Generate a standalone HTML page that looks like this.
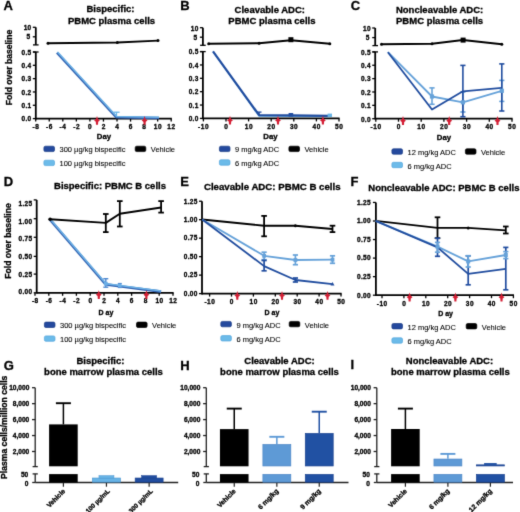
<!DOCTYPE html>
<html><head><meta charset="utf-8"><style>
html,body{margin:0;padding:0;background:#fff;}
svg{display:block;}
text{font-family:"Liberation Sans", sans-serif;stroke:#000;stroke-width:0.3px;}
</style></head><body>
<svg width="520" height="512" viewBox="0 0 520 512">
<defs><filter id="soft" x="0" y="0" width="520" height="512" filterUnits="userSpaceOnUse" color-interpolation-filters="sRGB"><feConvolveMatrix order="3" kernelMatrix="0.01210 0.08580 0.01210 0.08580 0.60840 0.08580 0.01210 0.08580 0.01210" edgeMode="duplicate" preserveAlpha="true"/></filter></defs>
<g filter="url(#soft)">
<rect width="520" height="512" fill="#fff"/>
<text x="3.60" y="9.70" font-size="13" font-weight="bold">A</text>
<text x="110.50" y="12.40" font-size="9.5" text-anchor="middle" font-weight="bold">Bispecific:</text>
<text x="111.50" y="23.70" font-size="9.5" text-anchor="middle" font-weight="bold">PBMC plasma cells</text>
<line x1="35.80" y1="52.00" x2="35.80" y2="119.40" stroke="#000" stroke-width="1.8" stroke-linecap="butt"/>
<line x1="33.00" y1="52.00" x2="38.60" y2="52.00" stroke="#000" stroke-width="1.3" stroke-linecap="butt"/>
<line x1="32.80" y1="118.60" x2="35.80" y2="118.60" stroke="#000" stroke-width="1.3" stroke-linecap="butt"/>
<text x="31.50" y="121.40" font-size="6.5" text-anchor="end" font-weight="bold" letter-spacing="0.3">0.0</text>
<line x1="32.80" y1="105.28" x2="35.80" y2="105.28" stroke="#000" stroke-width="1.3" stroke-linecap="butt"/>
<text x="31.50" y="108.08" font-size="6.5" text-anchor="end" font-weight="bold" letter-spacing="0.3">0.1</text>
<line x1="32.80" y1="91.96" x2="35.80" y2="91.96" stroke="#000" stroke-width="1.3" stroke-linecap="butt"/>
<text x="31.50" y="94.76" font-size="6.5" text-anchor="end" font-weight="bold" letter-spacing="0.3">0.2</text>
<line x1="32.80" y1="78.64" x2="35.80" y2="78.64" stroke="#000" stroke-width="1.3" stroke-linecap="butt"/>
<text x="31.50" y="81.44" font-size="6.5" text-anchor="end" font-weight="bold" letter-spacing="0.3">0.3</text>
<line x1="32.80" y1="65.32" x2="35.80" y2="65.32" stroke="#000" stroke-width="1.3" stroke-linecap="butt"/>
<text x="31.50" y="68.12" font-size="6.5" text-anchor="end" font-weight="bold" letter-spacing="0.3">0.4</text>
<line x1="32.80" y1="52.00" x2="35.80" y2="52.00" stroke="#000" stroke-width="1.3" stroke-linecap="butt"/>
<text x="31.50" y="54.80" font-size="6.5" text-anchor="end" font-weight="bold" letter-spacing="0.3">0.5</text>
<line x1="35.80" y1="27.30" x2="35.80" y2="44.90" stroke="#000" stroke-width="1.8" stroke-linecap="butt"/>
<line x1="33.00" y1="44.90" x2="38.60" y2="44.90" stroke="#000" stroke-width="1.3" stroke-linecap="butt"/>
<line x1="32.80" y1="27.30" x2="35.80" y2="27.30" stroke="#000" stroke-width="1.3" stroke-linecap="butt"/>
<line x1="32.80" y1="36.80" x2="35.80" y2="36.80" stroke="#000" stroke-width="1.3" stroke-linecap="butt"/>
<text x="31.50" y="30.10" font-size="6.5" text-anchor="end" font-weight="bold" letter-spacing="0.3">10</text>
<text x="30.00" y="39.40" font-size="6.5" text-anchor="end" font-weight="bold">5</text>
<line x1="35.80" y1="118.60" x2="171.80" y2="118.60" stroke="#000" stroke-width="1.8" stroke-linecap="butt"/>
<line x1="35.70" y1="118.60" x2="35.70" y2="121.60" stroke="#000" stroke-width="1.3" stroke-linecap="butt"/>
<text x="36.00" y="129.10" font-size="6.5" text-anchor="middle" font-weight="bold" letter-spacing="0.6">-8</text>
<line x1="49.25" y1="118.60" x2="49.25" y2="121.60" stroke="#000" stroke-width="1.3" stroke-linecap="butt"/>
<text x="49.55" y="129.10" font-size="6.5" text-anchor="middle" font-weight="bold" letter-spacing="0.6">-6</text>
<line x1="62.80" y1="118.60" x2="62.80" y2="121.60" stroke="#000" stroke-width="1.3" stroke-linecap="butt"/>
<text x="63.10" y="129.10" font-size="6.5" text-anchor="middle" font-weight="bold" letter-spacing="0.6">-4</text>
<line x1="76.35" y1="118.60" x2="76.35" y2="121.60" stroke="#000" stroke-width="1.3" stroke-linecap="butt"/>
<text x="76.65" y="129.10" font-size="6.5" text-anchor="middle" font-weight="bold" letter-spacing="0.6">-2</text>
<line x1="89.90" y1="118.60" x2="89.90" y2="121.60" stroke="#000" stroke-width="1.3" stroke-linecap="butt"/>
<text x="90.20" y="129.10" font-size="6.5" text-anchor="middle" font-weight="bold" letter-spacing="0.6">0</text>
<line x1="103.45" y1="118.60" x2="103.45" y2="121.60" stroke="#000" stroke-width="1.3" stroke-linecap="butt"/>
<text x="103.75" y="129.10" font-size="6.5" text-anchor="middle" font-weight="bold" letter-spacing="0.6">2</text>
<line x1="117.00" y1="118.60" x2="117.00" y2="121.60" stroke="#000" stroke-width="1.3" stroke-linecap="butt"/>
<text x="117.30" y="129.10" font-size="6.5" text-anchor="middle" font-weight="bold" letter-spacing="0.6">4</text>
<line x1="130.55" y1="118.60" x2="130.55" y2="121.60" stroke="#000" stroke-width="1.3" stroke-linecap="butt"/>
<text x="130.85" y="129.10" font-size="6.5" text-anchor="middle" font-weight="bold" letter-spacing="0.6">6</text>
<line x1="144.10" y1="118.60" x2="144.10" y2="121.60" stroke="#000" stroke-width="1.3" stroke-linecap="butt"/>
<text x="144.40" y="129.10" font-size="6.5" text-anchor="middle" font-weight="bold" letter-spacing="0.6">8</text>
<line x1="157.65" y1="118.60" x2="157.65" y2="121.60" stroke="#000" stroke-width="1.3" stroke-linecap="butt"/>
<text x="157.95" y="129.10" font-size="6.5" text-anchor="middle" font-weight="bold" letter-spacing="0.6">10</text>
<line x1="171.20" y1="118.60" x2="171.20" y2="121.60" stroke="#000" stroke-width="1.3" stroke-linecap="butt"/>
<text x="171.50" y="129.10" font-size="6.5" text-anchor="middle" font-weight="bold" letter-spacing="0.6">12</text>
<text x="104.00" y="139.20" font-size="7.8" text-anchor="middle" font-weight="bold">Day</text>
<text x="12.10" y="67.45" font-size="8.6" text-anchor="middle" font-weight="bold" transform="rotate(-90 12.10 67.45)">Fold over baseline</text>
<text x="180.20" y="9.70" font-size="13" font-weight="bold">B</text>
<text x="269.80" y="12.70" font-size="9.5" text-anchor="middle" font-weight="bold">Cleavable ADC:</text>
<text x="271.90" y="23.80" font-size="9.5" text-anchor="middle" font-weight="bold">PBMC plasma cells</text>
<line x1="202.90" y1="51.60" x2="202.90" y2="119.20" stroke="#000" stroke-width="1.8" stroke-linecap="butt"/>
<line x1="200.10" y1="51.60" x2="205.70" y2="51.60" stroke="#000" stroke-width="1.3" stroke-linecap="butt"/>
<line x1="199.90" y1="118.40" x2="202.90" y2="118.40" stroke="#000" stroke-width="1.3" stroke-linecap="butt"/>
<text x="198.60" y="121.20" font-size="6.5" text-anchor="end" font-weight="bold" letter-spacing="0.3">0.0</text>
<line x1="199.90" y1="105.04" x2="202.90" y2="105.04" stroke="#000" stroke-width="1.3" stroke-linecap="butt"/>
<text x="198.60" y="107.84" font-size="6.5" text-anchor="end" font-weight="bold" letter-spacing="0.3">0.1</text>
<line x1="199.90" y1="91.68" x2="202.90" y2="91.68" stroke="#000" stroke-width="1.3" stroke-linecap="butt"/>
<text x="198.60" y="94.48" font-size="6.5" text-anchor="end" font-weight="bold" letter-spacing="0.3">0.2</text>
<line x1="199.90" y1="78.32" x2="202.90" y2="78.32" stroke="#000" stroke-width="1.3" stroke-linecap="butt"/>
<text x="198.60" y="81.12" font-size="6.5" text-anchor="end" font-weight="bold" letter-spacing="0.3">0.3</text>
<line x1="199.90" y1="64.96" x2="202.90" y2="64.96" stroke="#000" stroke-width="1.3" stroke-linecap="butt"/>
<text x="198.60" y="67.76" font-size="6.5" text-anchor="end" font-weight="bold" letter-spacing="0.3">0.4</text>
<line x1="199.90" y1="51.60" x2="202.90" y2="51.60" stroke="#000" stroke-width="1.3" stroke-linecap="butt"/>
<text x="198.60" y="54.40" font-size="6.5" text-anchor="end" font-weight="bold" letter-spacing="0.3">0.5</text>
<line x1="202.90" y1="27.70" x2="202.90" y2="45.30" stroke="#000" stroke-width="1.8" stroke-linecap="butt"/>
<line x1="200.10" y1="45.30" x2="205.70" y2="45.30" stroke="#000" stroke-width="1.3" stroke-linecap="butt"/>
<line x1="199.90" y1="27.70" x2="202.90" y2="27.70" stroke="#000" stroke-width="1.3" stroke-linecap="butt"/>
<line x1="199.90" y1="37.20" x2="202.90" y2="37.20" stroke="#000" stroke-width="1.3" stroke-linecap="butt"/>
<text x="198.60" y="30.50" font-size="6.5" text-anchor="end" font-weight="bold" letter-spacing="0.3">10</text>
<text x="197.10" y="39.80" font-size="6.5" text-anchor="end" font-weight="bold">5</text>
<line x1="202.90" y1="118.40" x2="339.60" y2="118.40" stroke="#000" stroke-width="1.8" stroke-linecap="butt"/>
<line x1="203.40" y1="118.40" x2="203.40" y2="121.40" stroke="#000" stroke-width="1.3" stroke-linecap="butt"/>
<text x="203.70" y="128.90" font-size="6.5" text-anchor="middle" font-weight="bold" letter-spacing="0.6">-10</text>
<line x1="226.00" y1="118.40" x2="226.00" y2="121.40" stroke="#000" stroke-width="1.3" stroke-linecap="butt"/>
<text x="226.30" y="128.90" font-size="6.5" text-anchor="middle" font-weight="bold" letter-spacing="0.6">0</text>
<line x1="248.60" y1="118.40" x2="248.60" y2="121.40" stroke="#000" stroke-width="1.3" stroke-linecap="butt"/>
<text x="248.90" y="128.90" font-size="6.5" text-anchor="middle" font-weight="bold" letter-spacing="0.6">10</text>
<line x1="271.20" y1="118.40" x2="271.20" y2="121.40" stroke="#000" stroke-width="1.3" stroke-linecap="butt"/>
<text x="271.50" y="128.90" font-size="6.5" text-anchor="middle" font-weight="bold" letter-spacing="0.6">20</text>
<line x1="293.80" y1="118.40" x2="293.80" y2="121.40" stroke="#000" stroke-width="1.3" stroke-linecap="butt"/>
<text x="294.10" y="128.90" font-size="6.5" text-anchor="middle" font-weight="bold" letter-spacing="0.6">30</text>
<line x1="316.40" y1="118.40" x2="316.40" y2="121.40" stroke="#000" stroke-width="1.3" stroke-linecap="butt"/>
<text x="316.70" y="128.90" font-size="6.5" text-anchor="middle" font-weight="bold" letter-spacing="0.6">40</text>
<line x1="339.00" y1="118.40" x2="339.00" y2="121.40" stroke="#000" stroke-width="1.3" stroke-linecap="butt"/>
<text x="339.30" y="128.90" font-size="6.5" text-anchor="middle" font-weight="bold" letter-spacing="0.6">50</text>
<text x="270.50" y="139.30" font-size="7.8" text-anchor="middle" font-weight="bold">Day</text>
<text x="350.80" y="9.70" font-size="13" font-weight="bold">C</text>
<text x="439.60" y="12.70" font-size="9.5" text-anchor="middle" font-weight="bold">Noncleavable ADC:</text>
<text x="439.60" y="23.80" font-size="9.5" text-anchor="middle" font-weight="bold">PBMC plasma cells</text>
<line x1="375.20" y1="51.90" x2="375.20" y2="119.50" stroke="#000" stroke-width="1.8" stroke-linecap="butt"/>
<line x1="372.40" y1="51.90" x2="378.00" y2="51.90" stroke="#000" stroke-width="1.3" stroke-linecap="butt"/>
<line x1="372.20" y1="118.70" x2="375.20" y2="118.70" stroke="#000" stroke-width="1.3" stroke-linecap="butt"/>
<text x="370.90" y="121.50" font-size="6.5" text-anchor="end" font-weight="bold" letter-spacing="0.3">0.0</text>
<line x1="372.20" y1="105.34" x2="375.20" y2="105.34" stroke="#000" stroke-width="1.3" stroke-linecap="butt"/>
<text x="370.90" y="108.14" font-size="6.5" text-anchor="end" font-weight="bold" letter-spacing="0.3">0.1</text>
<line x1="372.20" y1="91.98" x2="375.20" y2="91.98" stroke="#000" stroke-width="1.3" stroke-linecap="butt"/>
<text x="370.90" y="94.78" font-size="6.5" text-anchor="end" font-weight="bold" letter-spacing="0.3">0.2</text>
<line x1="372.20" y1="78.62" x2="375.20" y2="78.62" stroke="#000" stroke-width="1.3" stroke-linecap="butt"/>
<text x="370.90" y="81.42" font-size="6.5" text-anchor="end" font-weight="bold" letter-spacing="0.3">0.3</text>
<line x1="372.20" y1="65.26" x2="375.20" y2="65.26" stroke="#000" stroke-width="1.3" stroke-linecap="butt"/>
<text x="370.90" y="68.06" font-size="6.5" text-anchor="end" font-weight="bold" letter-spacing="0.3">0.4</text>
<line x1="372.20" y1="51.90" x2="375.20" y2="51.90" stroke="#000" stroke-width="1.3" stroke-linecap="butt"/>
<text x="370.90" y="54.70" font-size="6.5" text-anchor="end" font-weight="bold" letter-spacing="0.3">0.5</text>
<line x1="375.20" y1="28.00" x2="375.20" y2="45.60" stroke="#000" stroke-width="1.8" stroke-linecap="butt"/>
<line x1="372.40" y1="45.60" x2="378.00" y2="45.60" stroke="#000" stroke-width="1.3" stroke-linecap="butt"/>
<line x1="372.20" y1="28.00" x2="375.20" y2="28.00" stroke="#000" stroke-width="1.3" stroke-linecap="butt"/>
<line x1="372.20" y1="37.60" x2="375.20" y2="37.60" stroke="#000" stroke-width="1.3" stroke-linecap="butt"/>
<text x="370.90" y="30.80" font-size="6.5" text-anchor="end" font-weight="bold" letter-spacing="0.3">10</text>
<text x="369.40" y="40.20" font-size="6.5" text-anchor="end" font-weight="bold">5</text>
<line x1="375.20" y1="118.70" x2="512.60" y2="118.70" stroke="#000" stroke-width="1.8" stroke-linecap="butt"/>
<line x1="375.80" y1="118.70" x2="375.80" y2="121.70" stroke="#000" stroke-width="1.3" stroke-linecap="butt"/>
<text x="376.10" y="129.20" font-size="6.5" text-anchor="middle" font-weight="bold" letter-spacing="0.6">-10</text>
<line x1="398.50" y1="118.70" x2="398.50" y2="121.70" stroke="#000" stroke-width="1.3" stroke-linecap="butt"/>
<text x="398.80" y="129.20" font-size="6.5" text-anchor="middle" font-weight="bold" letter-spacing="0.6">0</text>
<line x1="421.20" y1="118.70" x2="421.20" y2="121.70" stroke="#000" stroke-width="1.3" stroke-linecap="butt"/>
<text x="421.50" y="129.20" font-size="6.5" text-anchor="middle" font-weight="bold" letter-spacing="0.6">10</text>
<line x1="443.90" y1="118.70" x2="443.90" y2="121.70" stroke="#000" stroke-width="1.3" stroke-linecap="butt"/>
<text x="444.20" y="129.20" font-size="6.5" text-anchor="middle" font-weight="bold" letter-spacing="0.6">20</text>
<line x1="466.60" y1="118.70" x2="466.60" y2="121.70" stroke="#000" stroke-width="1.3" stroke-linecap="butt"/>
<text x="466.90" y="129.20" font-size="6.5" text-anchor="middle" font-weight="bold" letter-spacing="0.6">30</text>
<line x1="489.30" y1="118.70" x2="489.30" y2="121.70" stroke="#000" stroke-width="1.3" stroke-linecap="butt"/>
<text x="489.60" y="129.20" font-size="6.5" text-anchor="middle" font-weight="bold" letter-spacing="0.6">40</text>
<line x1="512.00" y1="118.70" x2="512.00" y2="121.70" stroke="#000" stroke-width="1.3" stroke-linecap="butt"/>
<text x="512.30" y="129.20" font-size="6.5" text-anchor="middle" font-weight="bold" letter-spacing="0.6">50</text>
<text x="444.00" y="139.50" font-size="7.8" text-anchor="middle" font-weight="bold">Day</text>
<polyline points="48.00,43.20 117.30,42.50 158.00,40.60" fill="none" stroke="#000" stroke-width="1.9" stroke-linejoin="round"/>
<circle cx="48.00" cy="43.20" r="1.5" fill="#000"/>
<circle cx="117.30" cy="42.50" r="1.5" fill="#000"/>
<circle cx="158.00" cy="40.60" r="1.5" fill="#000"/>
<polyline points="57.00,52.60 116.20,117.20 159.00,118.00" fill="none" stroke="#3565b4" stroke-width="2.6" stroke-linejoin="round"/>
<polyline points="57.50,52.10 116.60,116.60 159.00,117.30" fill="none" stroke="#6cb2e6" stroke-width="1.5" stroke-linejoin="round"/>
<line x1="113.40" y1="112.20" x2="119.60" y2="112.20" stroke="#68b4e6" stroke-width="1.3" stroke-linecap="butt"/>
<line x1="116.50" y1="112.20" x2="116.50" y2="116.00" stroke="#68b4e6" stroke-width="1.3" stroke-linecap="butt"/>
<path d="M97.00,116.00 L98.00,118.90 L99.90,120.60 L98.20,121.80 L98.00,124.80 L96.00,124.80 L95.80,121.80 L94.10,120.60 L96.00,118.90 Z" fill="#d41f35"/>
<path d="M144.60,116.00 L145.60,118.90 L147.50,120.60 L145.80,121.80 L145.60,124.80 L143.60,124.80 L143.40,121.80 L141.70,120.60 L143.60,118.90 Z" fill="#d41f35"/>
<rect x="43.90" y="146.20" width="10.60" height="5.40" fill="#24499e" rx="1.5" stroke="#1a3c85" stroke-width="0.7"/>
<text x="59.50" y="152.40" font-size="7.5" style="stroke-width:0.08px">300 µg/kg bispecific</text>
<rect x="43.90" y="160.20" width="10.60" height="5.40" fill="#6cbbe9" rx="1.5" stroke="#55a6dc" stroke-width="0.7"/>
<text x="59.50" y="166.40" font-size="7.5" style="stroke-width:0.08px">100 µg/kg bispecific</text>
<rect x="135.20" y="146.20" width="10.60" height="5.40" fill="#000" rx="1.5" stroke="#000" stroke-width="0.7"/>
<text x="150.80" y="152.40" font-size="7.5" style="stroke-width:0.08px">Vehicle</text>
<polyline points="208.70,43.70 259.10,43.20 290.90,40.20 329.80,43.70" fill="none" stroke="#000" stroke-width="1.9" stroke-linejoin="round"/>
<circle cx="208.70" cy="43.70" r="1.5" fill="#000"/>
<circle cx="259.10" cy="43.20" r="1.5" fill="#000"/>
<circle cx="290.90" cy="40.20" r="1.5" fill="#000"/>
<circle cx="329.80" cy="43.70" r="1.5" fill="#000"/>
<rect x="288.40" y="37.20" width="5.00" height="5.00" fill="#000"/>
<polyline points="213.00,51.60 259.10,116.00 290.90,116.20 329.80,116.40" fill="none" stroke="#68b4e6" stroke-width="1.6" stroke-linejoin="round"/>
<polyline points="213.00,51.30 259.10,115.20 290.90,115.30 329.80,115.90" fill="none" stroke="#214d9f" stroke-width="2.2" stroke-linejoin="round"/>
<line x1="257.00" y1="112.10" x2="261.50" y2="112.10" stroke="#214d9f" stroke-width="1.3" stroke-linecap="butt"/>
<line x1="259.10" y1="112.10" x2="259.10" y2="115.00" stroke="#214d9f" stroke-width="1.3" stroke-linecap="butt"/>
<rect x="288.60" y="113.00" width="4.60" height="3.60" fill="#214d9f"/>
<rect x="327.60" y="113.60" width="4.40" height="3.40" fill="#68b4e6"/>
<path d="M230.00,115.80 L231.00,118.70 L232.90,120.40 L231.20,121.60 L231.00,124.60 L229.00,124.60 L228.80,121.60 L227.10,120.40 L229.00,118.70 Z" fill="#d41f35"/>
<path d="M278.00,115.80 L279.00,118.70 L280.90,120.40 L279.20,121.60 L279.00,124.60 L277.00,124.60 L276.80,121.60 L275.10,120.40 L277.00,118.70 Z" fill="#d41f35"/>
<path d="M322.90,115.80 L323.90,118.70 L325.80,120.40 L324.10,121.60 L323.90,124.60 L321.90,124.60 L321.70,121.60 L320.00,120.40 L321.90,118.70 Z" fill="#d41f35"/>
<rect x="219.40" y="146.20" width="10.60" height="5.40" fill="#24499e" rx="1.5" stroke="#1a3c85" stroke-width="0.7"/>
<text x="235.00" y="152.40" font-size="7.5" style="stroke-width:0.08px">9 mg/kg ADC</text>
<rect x="219.40" y="159.80" width="10.60" height="5.40" fill="#6cbbe9" rx="1.5" stroke="#55a6dc" stroke-width="0.7"/>
<text x="235.00" y="166.00" font-size="7.5" style="stroke-width:0.08px">6 mg/kg ADC</text>
<rect x="288.90" y="146.20" width="10.60" height="5.40" fill="#000" rx="1.5" stroke="#000" stroke-width="0.7"/>
<text x="304.50" y="152.40" font-size="7.5" style="stroke-width:0.08px">Vehicle</text>
<polyline points="381.50,44.30 432.00,43.70 462.90,40.00 501.80,44.30" fill="none" stroke="#000" stroke-width="1.9" stroke-linejoin="round"/>
<circle cx="381.50" cy="44.30" r="1.5" fill="#000"/>
<circle cx="432.00" cy="43.70" r="1.5" fill="#000"/>
<circle cx="462.90" cy="40.00" r="1.5" fill="#000"/>
<circle cx="501.80" cy="44.30" r="1.5" fill="#000"/>
<rect x="460.60" y="37.60" width="5.00" height="5.00" fill="#000"/>
<polyline points="387.90,52.20 432.00,96.50 462.90,102.30 501.80,90.80" fill="none" stroke="#66a2d9" stroke-width="1.8" stroke-linejoin="round"/>
<line x1="432.00" y1="87.90" x2="432.00" y2="104.30" stroke="#66a2d9" stroke-width="1.6" stroke-linecap="butt"/>
<line x1="429.40" y1="87.90" x2="434.60" y2="87.90" stroke="#66a2d9" stroke-width="1.6" stroke-linecap="butt"/>
<line x1="429.40" y1="104.30" x2="434.60" y2="104.30" stroke="#66a2d9" stroke-width="1.6" stroke-linecap="butt"/>
<line x1="462.90" y1="92.00" x2="462.90" y2="112.00" stroke="#66a2d9" stroke-width="1.6" stroke-linecap="butt"/>
<line x1="460.30" y1="92.00" x2="465.50" y2="92.00" stroke="#66a2d9" stroke-width="1.6" stroke-linecap="butt"/>
<line x1="460.30" y1="112.00" x2="465.50" y2="112.00" stroke="#66a2d9" stroke-width="1.6" stroke-linecap="butt"/>
<line x1="501.80" y1="80.40" x2="501.80" y2="101.40" stroke="#66a2d9" stroke-width="1.6" stroke-linecap="butt"/>
<line x1="499.20" y1="80.40" x2="504.40" y2="80.40" stroke="#66a2d9" stroke-width="1.6" stroke-linecap="butt"/>
<line x1="499.20" y1="101.40" x2="504.40" y2="101.40" stroke="#66a2d9" stroke-width="1.6" stroke-linecap="butt"/>
<polyline points="387.90,52.20 432.00,109.50 462.90,91.30 501.80,87.90" fill="none" stroke="#214d9f" stroke-width="1.8" stroke-linejoin="round"/>
<line x1="462.90" y1="65.40" x2="462.90" y2="116.70" stroke="#214d9f" stroke-width="1.6" stroke-linecap="butt"/>
<line x1="460.30" y1="65.40" x2="465.50" y2="65.40" stroke="#214d9f" stroke-width="1.6" stroke-linecap="butt"/>
<line x1="460.30" y1="116.70" x2="465.50" y2="116.70" stroke="#214d9f" stroke-width="1.6" stroke-linecap="butt"/>
<line x1="501.80" y1="63.90" x2="501.80" y2="111.00" stroke="#214d9f" stroke-width="1.6" stroke-linecap="butt"/>
<line x1="499.20" y1="63.90" x2="504.40" y2="63.90" stroke="#214d9f" stroke-width="1.6" stroke-linecap="butt"/>
<line x1="499.20" y1="111.00" x2="504.40" y2="111.00" stroke="#214d9f" stroke-width="1.6" stroke-linecap="butt"/>
<rect x="429.90" y="94.40" width="4.20" height="4.20" fill="#66a2d9"/>
<rect x="460.80" y="100.20" width="4.20" height="4.20" fill="#66a2d9"/>
<rect x="499.70" y="88.70" width="4.20" height="4.20" fill="#66a2d9"/>
<path d="M403.00,116.10 L404.00,119.00 L405.90,120.70 L404.20,121.90 L404.00,124.90 L402.00,124.90 L401.80,121.90 L400.10,120.70 L402.00,119.00 Z" fill="#d41f35"/>
<path d="M449.20,116.10 L450.20,119.00 L452.10,120.70 L450.40,121.90 L450.20,124.90 L448.20,124.90 L448.00,121.90 L446.30,120.70 L448.20,119.00 Z" fill="#d41f35"/>
<path d="M497.50,116.10 L498.50,119.00 L500.40,120.70 L498.70,121.90 L498.50,124.90 L496.50,124.90 L496.30,121.90 L494.60,120.70 L496.50,119.00 Z" fill="#d41f35"/>
<rect x="391.90" y="148.80" width="10.60" height="5.40" fill="#24499e" rx="1.5" stroke="#1a3c85" stroke-width="0.7"/>
<text x="407.50" y="155.00" font-size="7.5" style="stroke-width:0.08px">12 mg/kg ADC</text>
<rect x="391.90" y="162.30" width="10.60" height="5.40" fill="#6cbbe9" rx="1.5" stroke="#55a6dc" stroke-width="0.7"/>
<text x="407.50" y="168.50" font-size="7.5" style="stroke-width:0.08px">6 mg/kg ADC</text>
<rect x="465.40" y="148.80" width="10.60" height="5.40" fill="#000" rx="1.5" stroke="#000" stroke-width="0.7"/>
<text x="481.00" y="155.00" font-size="7.5" style="stroke-width:0.08px">Vehicle</text>
<text x="3.80" y="185.60" font-size="13" font-weight="bold">D</text>
<text x="110.00" y="189.00" font-size="9.5" text-anchor="middle" font-weight="bold">Bispecific: PBMC B cells</text>
<line x1="36.70" y1="199.93" x2="36.70" y2="293.60" stroke="#000" stroke-width="1.8" stroke-linecap="butt"/>
<line x1="33.70" y1="292.80" x2="36.70" y2="292.80" stroke="#000" stroke-width="1.3" stroke-linecap="butt"/>
<text x="32.40" y="294.40" font-size="6.5" text-anchor="end" font-weight="bold" letter-spacing="0.3">0.00</text>
<line x1="33.70" y1="274.10" x2="36.70" y2="274.10" stroke="#000" stroke-width="1.3" stroke-linecap="butt"/>
<text x="32.40" y="276.60" font-size="6.5" text-anchor="end" font-weight="bold" letter-spacing="0.3">0.25</text>
<line x1="33.70" y1="256.40" x2="36.70" y2="256.40" stroke="#000" stroke-width="1.3" stroke-linecap="butt"/>
<text x="32.40" y="258.90" font-size="6.5" text-anchor="end" font-weight="bold" letter-spacing="0.3">0.50</text>
<line x1="33.70" y1="237.30" x2="36.70" y2="237.30" stroke="#000" stroke-width="1.3" stroke-linecap="butt"/>
<text x="32.40" y="241.20" font-size="6.5" text-anchor="end" font-weight="bold" letter-spacing="0.3">0.75</text>
<line x1="33.70" y1="218.70" x2="36.70" y2="218.70" stroke="#000" stroke-width="1.3" stroke-linecap="butt"/>
<text x="32.40" y="223.50" font-size="6.5" text-anchor="end" font-weight="bold" letter-spacing="0.3">1.00</text>
<line x1="33.70" y1="199.90" x2="36.70" y2="199.90" stroke="#000" stroke-width="1.3" stroke-linecap="butt"/>
<text x="32.40" y="205.50" font-size="6.5" text-anchor="end" font-weight="bold" letter-spacing="0.3">1.25</text>
<line x1="36.70" y1="292.80" x2="173.60" y2="292.80" stroke="#000" stroke-width="1.8" stroke-linecap="butt"/>
<line x1="35.00" y1="292.80" x2="35.00" y2="295.80" stroke="#000" stroke-width="1.3" stroke-linecap="butt"/>
<text x="35.30" y="303.30" font-size="6.5" text-anchor="middle" font-weight="bold" letter-spacing="0.5">-8</text>
<line x1="48.80" y1="292.80" x2="48.80" y2="295.80" stroke="#000" stroke-width="1.3" stroke-linecap="butt"/>
<text x="49.10" y="303.30" font-size="6.5" text-anchor="middle" font-weight="bold" letter-spacing="0.5">-6</text>
<line x1="62.60" y1="292.80" x2="62.60" y2="295.80" stroke="#000" stroke-width="1.3" stroke-linecap="butt"/>
<text x="62.90" y="303.30" font-size="6.5" text-anchor="middle" font-weight="bold" letter-spacing="0.5">-4</text>
<line x1="76.40" y1="292.80" x2="76.40" y2="295.80" stroke="#000" stroke-width="1.3" stroke-linecap="butt"/>
<text x="76.70" y="303.30" font-size="6.5" text-anchor="middle" font-weight="bold" letter-spacing="0.5">-2</text>
<line x1="90.20" y1="292.80" x2="90.20" y2="295.80" stroke="#000" stroke-width="1.3" stroke-linecap="butt"/>
<text x="90.50" y="303.30" font-size="6.5" text-anchor="middle" font-weight="bold" letter-spacing="0.5">0</text>
<line x1="104.00" y1="292.80" x2="104.00" y2="295.80" stroke="#000" stroke-width="1.3" stroke-linecap="butt"/>
<text x="104.30" y="303.30" font-size="6.5" text-anchor="middle" font-weight="bold" letter-spacing="0.5">2</text>
<line x1="117.80" y1="292.80" x2="117.80" y2="295.80" stroke="#000" stroke-width="1.3" stroke-linecap="butt"/>
<text x="118.10" y="303.30" font-size="6.5" text-anchor="middle" font-weight="bold" letter-spacing="0.5">4</text>
<line x1="131.60" y1="292.80" x2="131.60" y2="295.80" stroke="#000" stroke-width="1.3" stroke-linecap="butt"/>
<text x="131.90" y="303.30" font-size="6.5" text-anchor="middle" font-weight="bold" letter-spacing="0.5">6</text>
<line x1="145.40" y1="292.80" x2="145.40" y2="295.80" stroke="#000" stroke-width="1.3" stroke-linecap="butt"/>
<text x="145.70" y="303.30" font-size="6.5" text-anchor="middle" font-weight="bold" letter-spacing="0.5">8</text>
<line x1="159.20" y1="292.80" x2="159.20" y2="295.80" stroke="#000" stroke-width="1.3" stroke-linecap="butt"/>
<text x="159.50" y="303.30" font-size="6.5" text-anchor="middle" font-weight="bold" letter-spacing="0.5">10</text>
<line x1="173.00" y1="292.80" x2="173.00" y2="295.80" stroke="#000" stroke-width="1.3" stroke-linecap="butt"/>
<text x="173.30" y="303.30" font-size="6.5" text-anchor="middle" font-weight="bold" letter-spacing="0.5">12</text>
<text x="106.00" y="314.60" font-size="7.0" text-anchor="middle" font-weight="bold">D ay</text>
<text x="10.80" y="241.00" font-size="8.6" text-anchor="middle" font-weight="bold" transform="rotate(-90 10.80 241.00)">Fold over baseline</text>
<text x="180.20" y="185.60" font-size="13" font-weight="bold">E</text>
<text x="203.90" y="190.20" font-size="9.68" font-weight="bold">Cleavable ADC: PBMC B cells</text>
<line x1="202.00" y1="201.23" x2="202.00" y2="294.40" stroke="#000" stroke-width="1.8" stroke-linecap="butt"/>
<line x1="199.00" y1="293.60" x2="202.00" y2="293.60" stroke="#000" stroke-width="1.3" stroke-linecap="butt"/>
<text x="197.70" y="295.90" font-size="6.5" text-anchor="end" font-weight="bold" letter-spacing="0.3">0.00</text>
<line x1="199.00" y1="275.12" x2="202.00" y2="275.12" stroke="#000" stroke-width="1.3" stroke-linecap="butt"/>
<text x="197.70" y="277.43" font-size="6.5" text-anchor="end" font-weight="bold" letter-spacing="0.3">0.25</text>
<line x1="199.00" y1="256.65" x2="202.00" y2="256.65" stroke="#000" stroke-width="1.3" stroke-linecap="butt"/>
<text x="197.70" y="258.95" font-size="6.5" text-anchor="end" font-weight="bold" letter-spacing="0.3">0.50</text>
<line x1="199.00" y1="238.18" x2="202.00" y2="238.18" stroke="#000" stroke-width="1.3" stroke-linecap="butt"/>
<text x="197.70" y="240.48" font-size="6.5" text-anchor="end" font-weight="bold" letter-spacing="0.3">0.75</text>
<line x1="199.00" y1="219.70" x2="202.00" y2="219.70" stroke="#000" stroke-width="1.3" stroke-linecap="butt"/>
<text x="197.70" y="222.00" font-size="6.5" text-anchor="end" font-weight="bold" letter-spacing="0.3">1.00</text>
<line x1="199.00" y1="201.23" x2="202.00" y2="201.23" stroke="#000" stroke-width="1.3" stroke-linecap="butt"/>
<text x="197.70" y="203.53" font-size="6.5" text-anchor="end" font-weight="bold" letter-spacing="0.3">1.25</text>
<line x1="202.00" y1="293.60" x2="341.60" y2="293.60" stroke="#000" stroke-width="1.8" stroke-linecap="butt"/>
<line x1="209.60" y1="293.60" x2="209.60" y2="296.60" stroke="#000" stroke-width="1.3" stroke-linecap="butt"/>
<text x="209.90" y="304.10" font-size="6.5" text-anchor="middle" font-weight="bold" letter-spacing="0.5">-10</text>
<line x1="231.50" y1="293.60" x2="231.50" y2="296.60" stroke="#000" stroke-width="1.3" stroke-linecap="butt"/>
<text x="231.80" y="304.10" font-size="6.5" text-anchor="middle" font-weight="bold" letter-spacing="0.5">0</text>
<line x1="253.40" y1="293.60" x2="253.40" y2="296.60" stroke="#000" stroke-width="1.3" stroke-linecap="butt"/>
<text x="253.70" y="304.10" font-size="6.5" text-anchor="middle" font-weight="bold" letter-spacing="0.5">10</text>
<line x1="275.30" y1="293.60" x2="275.30" y2="296.60" stroke="#000" stroke-width="1.3" stroke-linecap="butt"/>
<text x="275.60" y="304.10" font-size="6.5" text-anchor="middle" font-weight="bold" letter-spacing="0.5">20</text>
<line x1="297.20" y1="293.60" x2="297.20" y2="296.60" stroke="#000" stroke-width="1.3" stroke-linecap="butt"/>
<text x="297.50" y="304.10" font-size="6.5" text-anchor="middle" font-weight="bold" letter-spacing="0.5">30</text>
<line x1="319.10" y1="293.60" x2="319.10" y2="296.60" stroke="#000" stroke-width="1.3" stroke-linecap="butt"/>
<text x="319.40" y="304.10" font-size="6.5" text-anchor="middle" font-weight="bold" letter-spacing="0.5">40</text>
<line x1="341.00" y1="293.60" x2="341.00" y2="296.60" stroke="#000" stroke-width="1.3" stroke-linecap="butt"/>
<text x="341.30" y="304.10" font-size="6.5" text-anchor="middle" font-weight="bold" letter-spacing="0.5">50</text>
<text x="272.00" y="314.80" font-size="7.0" text-anchor="middle" font-weight="bold">D ay</text>
<text x="350.60" y="185.60" font-size="13" font-weight="bold">F</text>
<text x="368.30" y="190.80" font-size="9.5" font-weight="bold">Noncleavable ADC: PBMC B cells</text>
<line x1="375.90" y1="202.45" x2="375.90" y2="296.00" stroke="#000" stroke-width="1.8" stroke-linecap="butt"/>
<line x1="372.90" y1="295.20" x2="375.90" y2="295.20" stroke="#000" stroke-width="1.3" stroke-linecap="butt"/>
<text x="370.90" y="297.50" font-size="6.5" text-anchor="end" font-weight="bold" letter-spacing="0.3">0.00</text>
<line x1="372.90" y1="276.65" x2="375.90" y2="276.65" stroke="#000" stroke-width="1.3" stroke-linecap="butt"/>
<text x="370.90" y="278.95" font-size="6.5" text-anchor="end" font-weight="bold" letter-spacing="0.3">0.25</text>
<line x1="372.90" y1="258.10" x2="375.90" y2="258.10" stroke="#000" stroke-width="1.3" stroke-linecap="butt"/>
<text x="370.90" y="260.40" font-size="6.5" text-anchor="end" font-weight="bold" letter-spacing="0.3">0.50</text>
<line x1="372.90" y1="239.55" x2="375.90" y2="239.55" stroke="#000" stroke-width="1.3" stroke-linecap="butt"/>
<text x="370.90" y="241.85" font-size="6.5" text-anchor="end" font-weight="bold" letter-spacing="0.3">0.75</text>
<line x1="372.90" y1="221.00" x2="375.90" y2="221.00" stroke="#000" stroke-width="1.3" stroke-linecap="butt"/>
<text x="370.90" y="223.30" font-size="6.5" text-anchor="end" font-weight="bold" letter-spacing="0.3">1.00</text>
<line x1="372.90" y1="202.45" x2="375.90" y2="202.45" stroke="#000" stroke-width="1.3" stroke-linecap="butt"/>
<text x="370.90" y="204.75" font-size="6.5" text-anchor="end" font-weight="bold" letter-spacing="0.3">1.25</text>
<line x1="375.90" y1="295.20" x2="514.00" y2="295.20" stroke="#000" stroke-width="1.8" stroke-linecap="butt"/>
<line x1="382.00" y1="295.20" x2="382.00" y2="298.20" stroke="#000" stroke-width="1.3" stroke-linecap="butt"/>
<text x="382.30" y="305.70" font-size="6.5" text-anchor="middle" font-weight="bold" letter-spacing="0.5">-10</text>
<line x1="403.90" y1="295.20" x2="403.90" y2="298.20" stroke="#000" stroke-width="1.3" stroke-linecap="butt"/>
<text x="404.20" y="305.70" font-size="6.5" text-anchor="middle" font-weight="bold" letter-spacing="0.5">0</text>
<line x1="425.80" y1="295.20" x2="425.80" y2="298.20" stroke="#000" stroke-width="1.3" stroke-linecap="butt"/>
<text x="426.10" y="305.70" font-size="6.5" text-anchor="middle" font-weight="bold" letter-spacing="0.5">10</text>
<line x1="447.70" y1="295.20" x2="447.70" y2="298.20" stroke="#000" stroke-width="1.3" stroke-linecap="butt"/>
<text x="448.00" y="305.70" font-size="6.5" text-anchor="middle" font-weight="bold" letter-spacing="0.5">20</text>
<line x1="469.60" y1="295.20" x2="469.60" y2="298.20" stroke="#000" stroke-width="1.3" stroke-linecap="butt"/>
<text x="469.90" y="305.70" font-size="6.5" text-anchor="middle" font-weight="bold" letter-spacing="0.5">30</text>
<line x1="491.50" y1="295.20" x2="491.50" y2="298.20" stroke="#000" stroke-width="1.3" stroke-linecap="butt"/>
<text x="491.80" y="305.70" font-size="6.5" text-anchor="middle" font-weight="bold" letter-spacing="0.5">40</text>
<line x1="513.40" y1="295.20" x2="513.40" y2="298.20" stroke="#000" stroke-width="1.3" stroke-linecap="butt"/>
<text x="513.70" y="305.70" font-size="6.5" text-anchor="middle" font-weight="bold" letter-spacing="0.5">50</text>
<text x="445.60" y="316.40" font-size="7.0" text-anchor="middle" font-weight="bold">D ay</text>
<polyline points="50.00,219.60 105.70,284.40 119.80,286.20 161.10,291.60" fill="none" stroke="#3565b4" stroke-width="2.6" stroke-linejoin="round"/>
<polyline points="50.40,219.20 106.00,283.80 119.80,285.50 161.10,291.00" fill="none" stroke="#6cb2e6" stroke-width="1.5" stroke-linejoin="round"/>
<line x1="105.80" y1="278.70" x2="105.80" y2="287.20" stroke="#5089d0" stroke-width="1.4" stroke-linecap="butt"/>
<line x1="103.30" y1="278.70" x2="108.30" y2="278.70" stroke="#5089d0" stroke-width="1.4" stroke-linecap="butt"/>
<line x1="103.30" y1="287.20" x2="108.30" y2="287.20" stroke="#5089d0" stroke-width="1.4" stroke-linecap="butt"/>
<line x1="119.80" y1="283.50" x2="119.80" y2="287.50" stroke="#5089d0" stroke-width="1.2" stroke-linecap="butt"/>
<line x1="117.80" y1="283.50" x2="121.80" y2="283.50" stroke="#5089d0" stroke-width="1.2" stroke-linecap="butt"/>
<line x1="117.80" y1="287.50" x2="121.80" y2="287.50" stroke="#5089d0" stroke-width="1.2" stroke-linecap="butt"/>
<rect x="103.90" y="281.80" width="3.80" height="3.80" fill="#6aaee6"/>
<rect x="118.00" y="283.80" width="3.60" height="3.40" fill="#6aaee6"/>
<polyline points="50.10,219.30 105.80,222.90 119.80,213.70 161.10,207.50" fill="none" stroke="#000" stroke-width="1.9" stroke-linejoin="round"/>
<circle cx="50.10" cy="219.30" r="1.8" fill="#000"/>
<line x1="105.80" y1="214.00" x2="105.80" y2="232.10" stroke="#000" stroke-width="1.8" stroke-linecap="butt"/>
<line x1="103.00" y1="214.00" x2="108.60" y2="214.00" stroke="#000" stroke-width="1.8" stroke-linecap="butt"/>
<line x1="103.00" y1="232.10" x2="108.60" y2="232.10" stroke="#000" stroke-width="1.8" stroke-linecap="butt"/>
<line x1="119.80" y1="201.10" x2="119.80" y2="226.50" stroke="#000" stroke-width="1.8" stroke-linecap="butt"/>
<line x1="117.00" y1="201.10" x2="122.60" y2="201.10" stroke="#000" stroke-width="1.8" stroke-linecap="butt"/>
<line x1="117.00" y1="226.50" x2="122.60" y2="226.50" stroke="#000" stroke-width="1.8" stroke-linecap="butt"/>
<line x1="161.10" y1="201.10" x2="161.10" y2="212.60" stroke="#000" stroke-width="1.8" stroke-linecap="butt"/>
<line x1="158.30" y1="201.10" x2="163.90" y2="201.10" stroke="#000" stroke-width="1.8" stroke-linecap="butt"/>
<line x1="158.30" y1="212.60" x2="163.90" y2="212.60" stroke="#000" stroke-width="1.8" stroke-linecap="butt"/>
<path d="M98.80,290.20 L99.80,293.10 L101.70,294.80 L100.00,296.00 L99.80,299.00 L97.80,299.00 L97.60,296.00 L95.90,294.80 L97.80,293.10 Z" fill="#d41f35"/>
<path d="M146.40,290.20 L147.40,293.10 L149.30,294.80 L147.60,296.00 L147.40,299.00 L145.40,299.00 L145.20,296.00 L143.50,294.80 L145.40,293.10 Z" fill="#d41f35"/>
<rect x="44.40" y="322.10" width="10.60" height="5.40" fill="#24499e" rx="1.5" stroke="#1a3c85" stroke-width="0.7"/>
<text x="60.00" y="328.30" font-size="7.5" style="stroke-width:0.08px">300 µg/kg bispecific</text>
<rect x="44.40" y="335.90" width="10.60" height="5.40" fill="#6cbbe9" rx="1.5" stroke="#55a6dc" stroke-width="0.7"/>
<text x="60.00" y="342.10" font-size="7.5" style="stroke-width:0.08px">100 µg/kg bispecific</text>
<rect x="136.50" y="322.10" width="10.60" height="5.40" fill="#000" rx="1.5" stroke="#000" stroke-width="0.7"/>
<text x="152.10" y="328.30" font-size="7.5" style="stroke-width:0.08px">Vehicle</text>
<polyline points="202.20,219.50 264.10,225.70 295.40,225.70 332.50,229.00" fill="none" stroke="#000" stroke-width="1.9" stroke-linejoin="round"/>
<circle cx="295.40" cy="225.70" r="1.5" fill="#000"/>
<line x1="264.10" y1="215.90" x2="264.10" y2="236.30" stroke="#000" stroke-width="1.8" stroke-linecap="butt"/>
<line x1="261.30" y1="215.90" x2="266.90" y2="215.90" stroke="#000" stroke-width="1.8" stroke-linecap="butt"/>
<line x1="261.30" y1="236.30" x2="266.90" y2="236.30" stroke="#000" stroke-width="1.8" stroke-linecap="butt"/>
<line x1="332.50" y1="225.70" x2="332.50" y2="232.10" stroke="#000" stroke-width="1.8" stroke-linecap="butt"/>
<line x1="329.70" y1="225.70" x2="335.30" y2="225.70" stroke="#000" stroke-width="1.8" stroke-linecap="butt"/>
<line x1="329.70" y1="232.10" x2="335.30" y2="232.10" stroke="#000" stroke-width="1.8" stroke-linecap="butt"/>
<polyline points="202.20,219.50 264.10,255.80 295.40,260.00 332.50,259.70" fill="none" stroke="#66a2d9" stroke-width="1.8" stroke-linejoin="round"/>
<line x1="264.10" y1="252.20" x2="264.10" y2="259.70" stroke="#66a2d9" stroke-width="1.7" stroke-linecap="butt"/>
<line x1="261.50" y1="252.20" x2="266.70" y2="252.20" stroke="#66a2d9" stroke-width="1.7" stroke-linecap="butt"/>
<line x1="261.50" y1="259.70" x2="266.70" y2="259.70" stroke="#66a2d9" stroke-width="1.7" stroke-linecap="butt"/>
<line x1="295.40" y1="255.00" x2="295.40" y2="264.70" stroke="#66a2d9" stroke-width="1.7" stroke-linecap="butt"/>
<line x1="292.80" y1="255.00" x2="298.00" y2="255.00" stroke="#66a2d9" stroke-width="1.7" stroke-linecap="butt"/>
<line x1="292.80" y1="264.70" x2="298.00" y2="264.70" stroke="#66a2d9" stroke-width="1.7" stroke-linecap="butt"/>
<line x1="332.50" y1="255.80" x2="332.50" y2="263.30" stroke="#66a2d9" stroke-width="1.7" stroke-linecap="butt"/>
<line x1="329.90" y1="255.80" x2="335.10" y2="255.80" stroke="#66a2d9" stroke-width="1.7" stroke-linecap="butt"/>
<line x1="329.90" y1="263.30" x2="335.10" y2="263.30" stroke="#66a2d9" stroke-width="1.7" stroke-linecap="butt"/>
<rect x="262.20" y="253.90" width="3.80" height="3.80" fill="#66a2d9"/>
<rect x="293.50" y="258.10" width="3.80" height="3.80" fill="#66a2d9"/>
<rect x="330.60" y="257.80" width="3.80" height="3.80" fill="#66a2d9"/>
<polyline points="202.20,219.50 264.10,266.10 295.40,280.00 332.50,284.20" fill="none" stroke="#214d9f" stroke-width="1.8" stroke-linejoin="round"/>
<line x1="264.10" y1="260.50" x2="264.10" y2="270.80" stroke="#214d9f" stroke-width="1.7" stroke-linecap="butt"/>
<line x1="261.50" y1="260.50" x2="266.70" y2="260.50" stroke="#214d9f" stroke-width="1.7" stroke-linecap="butt"/>
<line x1="261.50" y1="270.80" x2="266.70" y2="270.80" stroke="#214d9f" stroke-width="1.7" stroke-linecap="butt"/>
<line x1="295.40" y1="278.00" x2="295.40" y2="282.00" stroke="#214d9f" stroke-width="1.7" stroke-linecap="butt"/>
<line x1="292.80" y1="278.00" x2="298.00" y2="278.00" stroke="#214d9f" stroke-width="1.7" stroke-linecap="butt"/>
<line x1="292.80" y1="282.00" x2="298.00" y2="282.00" stroke="#214d9f" stroke-width="1.7" stroke-linecap="butt"/>
<path d="M330.5,285.5 L332.5,282 L334.5,285.5 Z" fill="#214d9f"/>
<path d="M237.30,291.00 L238.30,293.90 L240.20,295.60 L238.50,296.80 L238.30,299.80 L236.30,299.80 L236.10,296.80 L234.40,295.60 L236.30,293.90 Z" fill="#d41f35"/>
<path d="M282.00,291.00 L283.00,293.90 L284.90,295.60 L283.20,296.80 L283.00,299.80 L281.00,299.80 L280.80,296.80 L279.10,295.60 L281.00,293.90 Z" fill="#d41f35"/>
<path d="M327.50,291.00 L328.50,293.90 L330.40,295.60 L328.70,296.80 L328.50,299.80 L326.50,299.80 L326.30,296.80 L324.60,295.60 L326.50,293.90 Z" fill="#d41f35"/>
<rect x="220.80" y="321.40" width="10.60" height="5.40" fill="#24499e" rx="1.5" stroke="#1a3c85" stroke-width="0.7"/>
<text x="236.40" y="327.60" font-size="7.5" style="stroke-width:0.08px">9 mg/kg ADC</text>
<rect x="220.80" y="335.60" width="10.60" height="5.40" fill="#6cbbe9" rx="1.5" stroke="#55a6dc" stroke-width="0.7"/>
<text x="236.40" y="341.80" font-size="7.5" style="stroke-width:0.08px">6 mg/kg ADC</text>
<rect x="289.20" y="321.40" width="10.60" height="5.40" fill="#000" rx="1.5" stroke="#000" stroke-width="0.7"/>
<text x="304.80" y="327.60" font-size="7.5" style="stroke-width:0.08px">Vehicle</text>
<polyline points="375.60,220.90 437.50,227.90 468.20,227.90 505.80,230.40" fill="none" stroke="#000" stroke-width="1.9" stroke-linejoin="round"/>
<circle cx="468.20" cy="227.90" r="1.5" fill="#000"/>
<line x1="437.50" y1="217.30" x2="437.50" y2="238.20" stroke="#000" stroke-width="1.8" stroke-linecap="butt"/>
<line x1="434.70" y1="217.30" x2="440.30" y2="217.30" stroke="#000" stroke-width="1.8" stroke-linecap="butt"/>
<line x1="434.70" y1="238.20" x2="440.30" y2="238.20" stroke="#000" stroke-width="1.8" stroke-linecap="butt"/>
<line x1="505.80" y1="226.50" x2="505.80" y2="233.50" stroke="#000" stroke-width="1.8" stroke-linecap="butt"/>
<line x1="503.00" y1="226.50" x2="508.60" y2="226.50" stroke="#000" stroke-width="1.8" stroke-linecap="butt"/>
<line x1="503.00" y1="233.50" x2="508.60" y2="233.50" stroke="#000" stroke-width="1.8" stroke-linecap="butt"/>
<polyline points="375.60,220.90 437.50,246.60 468.20,261.40 505.80,255.00" fill="none" stroke="#66a2d9" stroke-width="1.8" stroke-linejoin="round"/>
<polyline points="375.60,220.90 437.50,247.40 468.20,273.90 505.80,268.90" fill="none" stroke="#214d9f" stroke-width="1.8" stroke-linejoin="round"/>
<line x1="437.50" y1="238.20" x2="437.50" y2="256.30" stroke="#214d9f" stroke-width="1.7" stroke-linecap="butt"/>
<line x1="434.90" y1="238.20" x2="440.10" y2="238.20" stroke="#214d9f" stroke-width="1.7" stroke-linecap="butt"/>
<line x1="434.90" y1="256.30" x2="440.10" y2="256.30" stroke="#214d9f" stroke-width="1.7" stroke-linecap="butt"/>
<line x1="468.20" y1="255.80" x2="468.20" y2="284.80" stroke="#214d9f" stroke-width="1.7" stroke-linecap="butt"/>
<line x1="465.60" y1="255.80" x2="470.80" y2="255.80" stroke="#214d9f" stroke-width="1.7" stroke-linecap="butt"/>
<line x1="465.60" y1="284.80" x2="470.80" y2="284.80" stroke="#214d9f" stroke-width="1.7" stroke-linecap="butt"/>
<line x1="505.80" y1="247.40" x2="505.80" y2="289.80" stroke="#214d9f" stroke-width="1.7" stroke-linecap="butt"/>
<line x1="503.20" y1="247.40" x2="508.40" y2="247.40" stroke="#214d9f" stroke-width="1.7" stroke-linecap="butt"/>
<line x1="503.20" y1="289.80" x2="508.40" y2="289.80" stroke="#214d9f" stroke-width="1.7" stroke-linecap="butt"/>
<line x1="437.50" y1="242.40" x2="437.50" y2="252.20" stroke="#66a2d9" stroke-width="1.7" stroke-linecap="butt"/>
<line x1="434.90" y1="242.40" x2="440.10" y2="242.40" stroke="#66a2d9" stroke-width="1.7" stroke-linecap="butt"/>
<line x1="434.90" y1="252.20" x2="440.10" y2="252.20" stroke="#66a2d9" stroke-width="1.7" stroke-linecap="butt"/>
<line x1="468.20" y1="255.80" x2="468.20" y2="267.00" stroke="#66a2d9" stroke-width="1.7" stroke-linecap="butt"/>
<line x1="465.60" y1="255.80" x2="470.80" y2="255.80" stroke="#66a2d9" stroke-width="1.7" stroke-linecap="butt"/>
<line x1="465.60" y1="267.00" x2="470.80" y2="267.00" stroke="#66a2d9" stroke-width="1.7" stroke-linecap="butt"/>
<line x1="505.80" y1="251.60" x2="505.80" y2="258.60" stroke="#66a2d9" stroke-width="1.7" stroke-linecap="butt"/>
<line x1="503.20" y1="251.60" x2="508.40" y2="251.60" stroke="#66a2d9" stroke-width="1.7" stroke-linecap="butt"/>
<line x1="503.20" y1="258.60" x2="508.40" y2="258.60" stroke="#66a2d9" stroke-width="1.7" stroke-linecap="butt"/>
<rect x="435.50" y="244.60" width="4.00" height="4.00" fill="#66a2d9"/>
<rect x="466.20" y="259.40" width="4.00" height="4.00" fill="#66a2d9"/>
<rect x="503.80" y="253.00" width="4.00" height="4.00" fill="#66a2d9"/>
<path d="M409.60,292.60 L410.60,295.50 L412.50,297.20 L410.80,298.40 L410.60,301.40 L408.60,301.40 L408.40,298.40 L406.70,297.20 L408.60,295.50 Z" fill="#d41f35"/>
<path d="M455.40,292.60 L456.40,295.50 L458.30,297.20 L456.60,298.40 L456.40,301.40 L454.40,301.40 L454.20,298.40 L452.50,297.20 L454.40,295.50 Z" fill="#d41f35"/>
<path d="M501.50,292.60 L502.50,295.50 L504.40,297.20 L502.70,298.40 L502.50,301.40 L500.50,301.40 L500.30,298.40 L498.60,297.20 L500.50,295.50 Z" fill="#d41f35"/>
<rect x="391.90" y="323.50" width="10.60" height="5.40" fill="#24499e" rx="1.5" stroke="#1a3c85" stroke-width="0.7"/>
<text x="407.50" y="329.70" font-size="7.5" style="stroke-width:0.08px">12 mg/kg ADC</text>
<rect x="391.90" y="337.80" width="10.60" height="5.40" fill="#6cbbe9" rx="1.5" stroke="#55a6dc" stroke-width="0.7"/>
<text x="407.50" y="344.00" font-size="7.5" style="stroke-width:0.08px">6 mg/kg ADC</text>
<rect x="466.20" y="323.50" width="10.60" height="5.40" fill="#000" rx="1.5" stroke="#000" stroke-width="0.7"/>
<text x="481.80" y="329.70" font-size="7.5" style="stroke-width:0.08px">Vehicle</text>
<text x="3.80" y="369.60" font-size="13" font-weight="bold">G</text>
<text x="100.40" y="364.30" font-size="9.5" text-anchor="middle" font-weight="bold">Bispecific:</text>
<text x="103.50" y="374.80" font-size="9.5" text-anchor="middle" font-weight="bold">bone marrow plasma cells</text>
<line x1="35.20" y1="387.70" x2="35.20" y2="466.60" stroke="#222" stroke-width="1.3" stroke-linecap="butt"/>
<line x1="32.60" y1="466.60" x2="37.80" y2="466.60" stroke="#222" stroke-width="1.3" stroke-linecap="butt"/>
<line x1="35.20" y1="473.90" x2="35.20" y2="482.50" stroke="#222" stroke-width="1.3" stroke-linecap="butt"/>
<line x1="32.60" y1="473.90" x2="37.80" y2="473.90" stroke="#222" stroke-width="1.3" stroke-linecap="butt"/>
<line x1="32.00" y1="387.70" x2="35.20" y2="387.70" stroke="#222" stroke-width="1.3" stroke-linecap="butt"/>
<text x="29.30" y="390.00" font-size="6.6" text-anchor="end" font-weight="bold">10,000</text>
<line x1="32.00" y1="403.65" x2="35.20" y2="403.65" stroke="#222" stroke-width="1.3" stroke-linecap="butt"/>
<text x="29.30" y="405.95" font-size="6.6" text-anchor="end" font-weight="bold">8,000</text>
<line x1="32.00" y1="419.60" x2="35.20" y2="419.60" stroke="#222" stroke-width="1.3" stroke-linecap="butt"/>
<text x="29.30" y="421.90" font-size="6.6" text-anchor="end" font-weight="bold">6,000</text>
<line x1="32.00" y1="435.55" x2="35.20" y2="435.55" stroke="#222" stroke-width="1.3" stroke-linecap="butt"/>
<text x="29.30" y="437.85" font-size="6.6" text-anchor="end" font-weight="bold">4,000</text>
<line x1="32.00" y1="451.50" x2="35.20" y2="451.50" stroke="#222" stroke-width="1.3" stroke-linecap="butt"/>
<text x="29.30" y="453.80" font-size="6.6" text-anchor="end" font-weight="bold">2,000</text>
<text x="28.30" y="476.90" font-size="6.6" text-anchor="end" font-weight="bold">50</text>
<text x="28.30" y="485.50" font-size="6.6" text-anchor="end" font-weight="bold">0</text>
<line x1="32.20" y1="482.50" x2="35.20" y2="482.50" stroke="#222" stroke-width="1.3" stroke-linecap="butt"/>
<line x1="35.20" y1="482.50" x2="178.20" y2="482.50" stroke="#222" stroke-width="1.3" stroke-linecap="butt"/>
<line x1="63.40" y1="482.50" x2="63.40" y2="486.70" stroke="#222" stroke-width="1.2" stroke-linecap="butt"/>
<rect x="49.10" y="424.40" width="28.60" height="41.90" fill="#000"/>
<rect x="49.10" y="474.10" width="28.60" height="8.40" fill="#000"/>
<line x1="63.40" y1="403.20" x2="63.40" y2="424.40" stroke="#000" stroke-width="1.5" stroke-linecap="butt"/>
<line x1="55.90" y1="403.20" x2="70.90" y2="403.20" stroke="#000" stroke-width="1.9" stroke-linecap="butt"/>
<text x="65.70" y="491.60" font-size="6.7" text-anchor="end" font-weight="bold" transform="rotate(-45 65.70 491.60)">Vehicle</text>
<line x1="106.45" y1="482.50" x2="106.45" y2="486.70" stroke="#222" stroke-width="1.2" stroke-linecap="butt"/>
<rect x="92.50" y="478.05" width="27.90" height="4.10" fill="#68b4e6" stroke="#4f98d2" stroke-width="0.7"/>
<rect x="98.95" y="475.60" width="15.00" height="2.50" fill="#68b4e6" stroke="#4f98d2" stroke-width="0.5"/>
<text x="110.25" y="491.60" font-size="6.3" text-anchor="end" font-weight="bold" transform="rotate(-45 110.25 491.60)">100 µg/mL</text>
<line x1="149.15" y1="482.50" x2="149.15" y2="486.70" stroke="#222" stroke-width="1.2" stroke-linecap="butt"/>
<rect x="135.20" y="478.05" width="27.90" height="4.10" fill="#214d9f" stroke="#1b4290" stroke-width="0.7"/>
<rect x="141.65" y="475.60" width="15.00" height="2.50" fill="#214d9f" stroke="#1b4290" stroke-width="0.5"/>
<text x="153.15" y="491.60" font-size="6.3" text-anchor="end" font-weight="bold" transform="rotate(-45 153.15 491.60)">300 µg/mL</text>
<text x="6.90" y="427.30" font-size="8.6" text-anchor="middle" font-weight="bold" transform="rotate(-90 6.90 427.30)">Plasma cells/million cells</text>
<text x="180.20" y="369.60" font-size="13" font-weight="bold">H</text>
<text x="279.50" y="363.60" font-size="9.5" text-anchor="middle" font-weight="bold">Cleavable ADC:</text>
<text x="279.50" y="374.60" font-size="9.5" text-anchor="middle" font-weight="bold">bone marrow plasma cells</text>
<line x1="206.30" y1="387.70" x2="206.30" y2="466.60" stroke="#222" stroke-width="1.3" stroke-linecap="butt"/>
<line x1="203.70" y1="466.60" x2="208.90" y2="466.60" stroke="#222" stroke-width="1.3" stroke-linecap="butt"/>
<line x1="206.30" y1="473.90" x2="206.30" y2="482.50" stroke="#222" stroke-width="1.3" stroke-linecap="butt"/>
<line x1="203.70" y1="473.90" x2="208.90" y2="473.90" stroke="#222" stroke-width="1.3" stroke-linecap="butt"/>
<line x1="203.10" y1="387.70" x2="206.30" y2="387.70" stroke="#222" stroke-width="1.3" stroke-linecap="butt"/>
<text x="200.40" y="390.00" font-size="6.6" text-anchor="end" font-weight="bold">10,000</text>
<line x1="203.10" y1="403.65" x2="206.30" y2="403.65" stroke="#222" stroke-width="1.3" stroke-linecap="butt"/>
<text x="200.40" y="405.95" font-size="6.6" text-anchor="end" font-weight="bold">8,000</text>
<line x1="203.10" y1="419.60" x2="206.30" y2="419.60" stroke="#222" stroke-width="1.3" stroke-linecap="butt"/>
<text x="200.40" y="421.90" font-size="6.6" text-anchor="end" font-weight="bold">6,000</text>
<line x1="203.10" y1="435.55" x2="206.30" y2="435.55" stroke="#222" stroke-width="1.3" stroke-linecap="butt"/>
<text x="200.40" y="437.85" font-size="6.6" text-anchor="end" font-weight="bold">4,000</text>
<line x1="203.10" y1="451.50" x2="206.30" y2="451.50" stroke="#222" stroke-width="1.3" stroke-linecap="butt"/>
<text x="200.40" y="453.80" font-size="6.6" text-anchor="end" font-weight="bold">2,000</text>
<text x="199.40" y="476.90" font-size="6.6" text-anchor="end" font-weight="bold">50</text>
<text x="199.40" y="485.50" font-size="6.6" text-anchor="end" font-weight="bold">0</text>
<line x1="203.30" y1="482.50" x2="206.30" y2="482.50" stroke="#222" stroke-width="1.3" stroke-linecap="butt"/>
<line x1="206.30" y1="482.50" x2="348.50" y2="482.50" stroke="#222" stroke-width="1.3" stroke-linecap="butt"/>
<line x1="234.25" y1="482.50" x2="234.25" y2="486.70" stroke="#222" stroke-width="1.2" stroke-linecap="butt"/>
<rect x="219.95" y="429.10" width="28.60" height="37.20" fill="#000"/>
<rect x="219.95" y="474.10" width="28.60" height="8.40" fill="#000"/>
<line x1="234.25" y1="408.60" x2="234.25" y2="429.10" stroke="#000" stroke-width="1.5" stroke-linecap="butt"/>
<line x1="226.75" y1="408.60" x2="241.75" y2="408.60" stroke="#000" stroke-width="1.9" stroke-linecap="butt"/>
<text x="236.25" y="491.60" font-size="6.7" text-anchor="end" font-weight="bold" transform="rotate(-45 236.25 491.60)">Vehicle</text>
<line x1="276.85" y1="482.50" x2="276.85" y2="486.70" stroke="#222" stroke-width="1.2" stroke-linecap="butt"/>
<rect x="262.90" y="444.55" width="27.90" height="21.40" fill="#5e9ad6" stroke="#4c86c6" stroke-width="0.7"/>
<rect x="262.90" y="474.45" width="27.90" height="7.70" fill="#5e9ad6" stroke="#4c86c6" stroke-width="0.7"/>
<line x1="276.85" y1="436.80" x2="276.85" y2="444.20" stroke="#5e9ad6" stroke-width="1.5" stroke-linecap="butt"/>
<line x1="269.35" y1="436.80" x2="284.35" y2="436.80" stroke="#5e9ad6" stroke-width="1.9" stroke-linecap="butt"/>
<text x="278.85" y="491.60" font-size="6.8" text-anchor="end" font-weight="bold" transform="rotate(-45 278.85 491.60)">6 mg/kg</text>
<line x1="319.25" y1="482.50" x2="319.25" y2="486.70" stroke="#222" stroke-width="1.2" stroke-linecap="butt"/>
<rect x="305.30" y="433.45" width="27.90" height="32.50" fill="#2151a3" stroke="#1b4290" stroke-width="0.7"/>
<rect x="305.30" y="474.45" width="27.90" height="7.70" fill="#2151a3" stroke="#1b4290" stroke-width="0.7"/>
<line x1="319.25" y1="411.70" x2="319.25" y2="433.10" stroke="#2151a3" stroke-width="1.5" stroke-linecap="butt"/>
<line x1="311.75" y1="411.70" x2="326.75" y2="411.70" stroke="#2151a3" stroke-width="1.9" stroke-linecap="butt"/>
<text x="321.25" y="491.60" font-size="6.8" text-anchor="end" font-weight="bold" transform="rotate(-45 321.25 491.60)">9 mg/kg</text>
<text x="350.40" y="369.30" font-size="13" font-weight="bold">I</text>
<text x="449.50" y="363.60" font-size="9.5" text-anchor="middle" font-weight="bold">Noncleavable ADC:</text>
<text x="450.40" y="374.60" font-size="9.5" text-anchor="middle" font-weight="bold">bone marrow plasma cells</text>
<line x1="376.80" y1="387.70" x2="376.80" y2="466.60" stroke="#222" stroke-width="1.3" stroke-linecap="butt"/>
<line x1="374.20" y1="466.60" x2="379.40" y2="466.60" stroke="#222" stroke-width="1.3" stroke-linecap="butt"/>
<line x1="376.80" y1="473.90" x2="376.80" y2="482.50" stroke="#222" stroke-width="1.3" stroke-linecap="butt"/>
<line x1="374.20" y1="473.90" x2="379.40" y2="473.90" stroke="#222" stroke-width="1.3" stroke-linecap="butt"/>
<line x1="373.60" y1="387.70" x2="376.80" y2="387.70" stroke="#222" stroke-width="1.3" stroke-linecap="butt"/>
<text x="370.90" y="390.00" font-size="6.6" text-anchor="end" font-weight="bold">10,000</text>
<line x1="373.60" y1="403.65" x2="376.80" y2="403.65" stroke="#222" stroke-width="1.3" stroke-linecap="butt"/>
<text x="370.90" y="405.95" font-size="6.6" text-anchor="end" font-weight="bold">8,000</text>
<line x1="373.60" y1="419.60" x2="376.80" y2="419.60" stroke="#222" stroke-width="1.3" stroke-linecap="butt"/>
<text x="370.90" y="421.90" font-size="6.6" text-anchor="end" font-weight="bold">6,000</text>
<line x1="373.60" y1="435.55" x2="376.80" y2="435.55" stroke="#222" stroke-width="1.3" stroke-linecap="butt"/>
<text x="370.90" y="437.85" font-size="6.6" text-anchor="end" font-weight="bold">4,000</text>
<line x1="373.60" y1="451.50" x2="376.80" y2="451.50" stroke="#222" stroke-width="1.3" stroke-linecap="butt"/>
<text x="370.90" y="453.80" font-size="6.6" text-anchor="end" font-weight="bold">2,000</text>
<text x="369.90" y="476.90" font-size="6.6" text-anchor="end" font-weight="bold">50</text>
<text x="369.90" y="485.50" font-size="6.6" text-anchor="end" font-weight="bold">0</text>
<line x1="373.80" y1="482.50" x2="376.80" y2="482.50" stroke="#222" stroke-width="1.3" stroke-linecap="butt"/>
<line x1="376.80" y1="482.50" x2="513.00" y2="482.50" stroke="#222" stroke-width="1.3" stroke-linecap="butt"/>
<line x1="405.40" y1="482.50" x2="405.40" y2="486.70" stroke="#222" stroke-width="1.2" stroke-linecap="butt"/>
<rect x="391.10" y="429.00" width="28.60" height="37.30" fill="#000"/>
<rect x="391.10" y="474.10" width="28.60" height="8.40" fill="#000"/>
<line x1="405.40" y1="408.60" x2="405.40" y2="429.00" stroke="#000" stroke-width="1.5" stroke-linecap="butt"/>
<line x1="397.90" y1="408.60" x2="412.90" y2="408.60" stroke="#000" stroke-width="1.9" stroke-linecap="butt"/>
<text x="407.40" y="491.60" font-size="6.7" text-anchor="end" font-weight="bold" transform="rotate(-45 407.40 491.60)">Vehicle</text>
<line x1="447.90" y1="482.50" x2="447.90" y2="486.70" stroke="#222" stroke-width="1.2" stroke-linecap="butt"/>
<rect x="433.95" y="459.05" width="27.90" height="6.90" fill="#5e9ad6" stroke="#4c86c6" stroke-width="0.7"/>
<rect x="433.95" y="474.45" width="27.90" height="7.70" fill="#5e9ad6" stroke="#4c86c6" stroke-width="0.7"/>
<line x1="447.90" y1="453.90" x2="447.90" y2="458.70" stroke="#5e9ad6" stroke-width="1.5" stroke-linecap="butt"/>
<line x1="440.40" y1="453.90" x2="455.40" y2="453.90" stroke="#5e9ad6" stroke-width="1.9" stroke-linecap="butt"/>
<text x="449.90" y="491.60" font-size="6.8" text-anchor="end" font-weight="bold" transform="rotate(-45 449.90 491.60)">6 mg/kg</text>
<line x1="490.40" y1="482.50" x2="490.40" y2="486.70" stroke="#222" stroke-width="1.2" stroke-linecap="butt"/>
<rect x="476.45" y="464.85" width="27.90" height="1.10" fill="#2151a3" stroke="#1b4290" stroke-width="0.7"/>
<rect x="476.45" y="474.45" width="27.90" height="7.70" fill="#2151a3" stroke="#1b4290" stroke-width="0.7"/>
<line x1="490.40" y1="464.00" x2="490.40" y2="464.50" stroke="#2151a3" stroke-width="1.5" stroke-linecap="butt"/>
<line x1="484.10" y1="464.00" x2="496.70" y2="464.00" stroke="#2151a3" stroke-width="1.9" stroke-linecap="butt"/>
<text x="492.40" y="491.60" font-size="6.8" text-anchor="end" font-weight="bold" transform="rotate(-45 492.40 491.60)">12 mg/kg</text>
</g>
</svg></body></html>
